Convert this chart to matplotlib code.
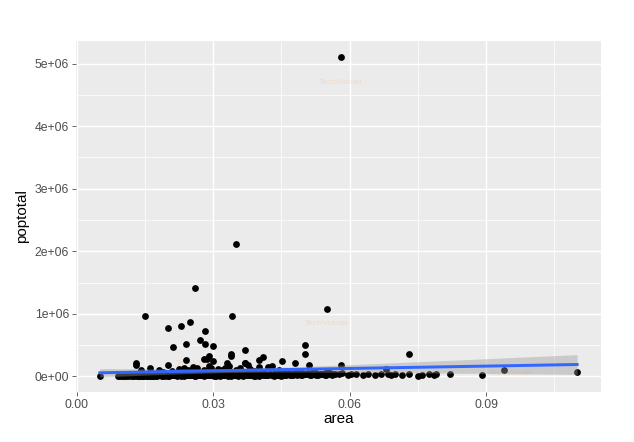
import numpy as np
import matplotlib
matplotlib.use("Agg")
import matplotlib.pyplot as plt

# Notable (non-baseline) counties: area, poptotal
area_hi = [0.0581, 0.0351, 0.0261, 0.0550, 0.0151, 0.0341, 0.0250, 0.0230, 0.0201, 0.0281,
           0.0211, 0.0241, 0.0270, 0.0281, 0.0300, 0.0370, 0.0339, 0.0339, 0.0501, 0.0501,
           0.0731, 0.0131, 0.0131, 0.0201, 0.0241, 0.0291, 0.0280, 0.0287, 0.0300, 0.0330,
           0.0370, 0.0161, 0.0141, 0.0180, 0.0051, 0.0410, 0.0400, 0.0451, 0.0480, 0.0511,
           0.0580, 0.0370, 0.0376, 0.0400, 0.0420, 0.0430, 0.0680, 0.0940, 0.1100, 0.0890,
           0.0750, 0.0820,
           0.0225, 0.0235, 0.0245, 0.0255, 0.0260, 0.0265, 0.0280, 0.0290, 0.0295, 0.0310,
           0.0320, 0.0325, 0.0335, 0.0350, 0.0360, 0.0380, 0.0390, 0.0445, 0.0460, 0.0490,
           0.0520, 0.0550, 0.0165, 0.0190, 0.0210]
pop_hi = [5105067, 2111687, 1412140, 1083592, 959275, 961437, 870000, 800000, 780000, 720000,
          470000, 520000, 580000, 520000, 480000, 430000, 360000, 320000, 500000, 360000,
          360000, 210000, 180000, 180000, 260000, 330000, 280000, 280000, 250000, 220000,
          220000, 130000, 110000, 95000, 10000, 310000, 260000, 250000, 210000, 180000,
          180000, 210000, 190000, 150000, 150000, 160000, 120000, 110000, 70000, 15000,
          10000, 40000,
          120000, 140000, 100000, 150000, 90000, 130000, 110000, 160000, 130000, 120000,
          100000, 140000, 170000, 110000, 130000, 120000, 90000, 110000, 80000, 90000,
          70000, 90000, 60000, 70000, 90000]

# Baseline counties (small populations), area in thousandths
area_base = [9.0, 9.4, 9.8, 10.2, 10.5, 10.9, 11.3, 11.6, 12.0, 12.3,
             12.7, 13.0, 13.4, 13.8, 14.1, 14.5, 14.8, 15.2, 15.5, 15.9,
             16.2, 16.6, 16.9, 17.3, 17.6, 18.0, 18.3, 18.7, 19.0, 19.4,
             19.7, 20.1, 20.4, 20.8, 21.1, 21.4, 21.8, 22.1, 22.4, 22.8,
             23.1, 23.4, 23.7, 24.0, 24.3, 24.6, 24.9, 25.2, 25.5, 25.8,
             26.1, 26.4, 26.7, 27.0, 27.3, 27.6, 27.9, 28.2, 28.5, 28.8,
             29.1, 29.4, 29.7, 30.0, 30.3, 30.6, 30.9, 31.2, 31.5, 31.8,
             32.1, 32.4, 32.7, 33.0, 33.3, 33.6, 33.9, 34.2, 34.5, 34.8,
             35.1, 35.4, 35.7, 36.0, 36.3, 36.6, 36.9, 37.2, 37.5, 37.8,
             38.1, 38.5, 38.9, 39.3, 39.7, 40.1, 40.5, 40.9, 41.3, 41.7,
             42.1, 42.5, 42.9, 43.3, 43.7, 44.1, 44.5, 44.9, 45.3, 45.7,
             46.1, 46.5, 46.9, 47.3, 47.7, 48.1, 48.5, 48.9, 49.3, 49.7,
             50.1, 50.5, 50.9, 51.3, 51.7, 52.1, 52.6, 53.1, 53.6, 54.1,
             54.6, 55.1, 55.6, 56.2, 56.8, 57.6, 58.3, 59.6, 60.3, 61.5,
             63.0, 64.0, 65.5, 67.0, 68.5, 69.0, 70.0, 71.5, 73.0, 76.0,
             77.5, 78.5, 79.0,
             17.0, 17.3, 17.6, 17.9, 18.2, 18.5, 18.8, 19.1, 19.4, 19.7,
             20.0, 20.3, 20.6, 20.9, 21.2, 21.5, 21.8, 22.1, 22.4, 22.7,
             23.0, 23.3, 23.6, 23.9, 24.2, 24.5, 24.8, 25.1, 25.4, 25.7,
             26.0, 26.3, 26.6, 26.9, 27.2, 27.5, 27.8, 28.1, 28.4, 28.7,
             29.0, 29.3, 29.6, 29.9, 30.2, 30.5, 30.8, 31.1, 31.4, 31.7,
             32.0, 32.4, 32.8, 33.2, 33.6, 34.0, 34.4, 34.8, 35.2, 35.6,
             12.5, 13.2, 13.9, 14.6, 15.3, 16.0, 16.7, 17.4, 18.1, 18.8,
             19.5, 20.2, 20.9, 21.6, 22.3, 23.0, 23.5, 24.0, 24.5, 25.0,
             25.5, 26.0, 26.5, 27.0, 27.5, 28.0, 28.5, 29.0, 29.5, 30.0,
             30.5, 31.0, 31.5, 32.0, 32.5, 33.0, 33.5, 34.0, 34.5, 35.0,
             35.5, 36.0, 36.5, 37.0, 37.5, 38.0, 38.5, 39.0, 39.5, 40.0,
             40.6, 41.2, 41.8, 42.4, 43.0, 43.6, 44.2, 44.8, 45.4, 46.0,
             46.6, 47.2, 47.8, 48.4, 49.0, 49.6, 50.2, 50.8, 51.4, 52.0,
             52.7, 53.4, 54.1, 54.8, 55.5, 56.3, 14.0, 16.3, 18.5, 21.0,
             23.2, 25.3, 27.2, 29.3, 31.2, 33.3, 35.3, 37.3, 39.2, 41.5,
             43.5, 45.5, 47.5, 49.5, 51.5]
pop_base = [8000, 12000, 6000, 14000, 9000, 11000, 7000, 15000, 10000, 13000,
            9000, 16000, 11000, 8000, 14000, 12000, 18000, 10000, 7000, 15000,
            20000, 11000, 17000, 13000, 9000, 22000, 15000, 10000, 19000, 12000,
            30000, 12000, 22000, 27000, 15000, 20000, 38000, 13000, 25000, 18000,
            39000, 26000, 13000, 44000, 20000, 32000, 17000, 61000, 23000, 29000,
            14000, 37000, 25000, 50000, 19000, 33000, 11000, 42000, 27000, 21000,
            35000, 16000, 55000, 24000, 30000, 12000, 46000, 28000, 18000, 38000,
            22000, 64000, 15000, 31000, 26000, 40000, 13000, 34000, 20000, 48000,
            25000, 17000, 36000, 29000, 53000, 14000, 32000, 23000, 41000, 19000,
            27000, 44000, 12000, 30000, 21000, 37000, 16000, 57000, 24000, 33000,
            18000, 39000, 26000, 14000, 49000, 22000, 31000, 11000, 35000, 28000,
            28000, 51000, 23000, 42000, 33000, 60000, 27000, 38000, 21000, 46000,
            33000, 39000, 56000, 27000, 42000, 31000, 50000, 24000, 37000, 46000,
            30000, 37000, 56000, 24000, 43000, 34000, 47000, 28000, 40000, 32000,
            27000, 36000, 22000, 42000, 31000, 24000, 38000, 29000, 45000, 21000,
            33000, 26000, 39000,
            34000, 18000, 27000, 41000, 15000, 22000, 30000, 48000, 19000, 25000,
            37000, 13000, 29000, 60000, 21000, 33000, 17000, 45000, 26000, 38000,
            14000, 31000, 52000, 23000, 36000, 20000, 42000, 28000, 16000, 39000,
            24000, 55000, 19000, 32000, 27000, 47000, 15000, 35000, 22000, 43000,
            18000, 30000, 50000, 25000, 12000, 37000, 21000, 28000, 44000, 17000,
            33000, 24000, 40000, 14000, 29000, 20000, 36000, 26000, 31000, 18000,
            16000, 11000, 20000, 9000, 25000, 14000, 10000, 18000, 22000, 8000,
            24000, 45000, 18000, 31000, 21000, 38000, 15000, 27000, 50000, 20000,
            32000, 13000, 43000, 25000, 35000, 16000, 28000, 47000, 19000, 30000,
            23000, 39000, 11000, 34000, 26000, 54000, 17000, 29000, 22000, 40000,
            14000, 33000, 25000, 48000, 20000, 31000, 18000, 37000, 27000, 12000,
            42000, 24000, 16000, 35000, 28000, 51000, 21000, 30000, 15000, 38000,
            34000, 27000, 52000, 31000, 40000, 21000, 44000, 37000, 25000, 49000,
            30000, 42000, 33000, 26000, 38000, 35000, 12000, 10000, 18000, 30000,
            16000, 33000, 24000, 45000, 19000, 31000, 22000, 37000, 14000, 29000,
            34000, 43000, 26000, 48000, 31000]

x_ticks = [0.00, 0.03, 0.06, 0.09]
x_labels = ["0.00", "0.03", "0.06", "0.09"]
y_ticks = [0, 1e6, 2e6, 3e6, 4e6, 5e6]
y_labels = ["0e+00", "1e+06", "2e+06", "3e+06", "4e+06", "5e+06"]

area = np.array(area_hi + [a / 1000.0 for a in area_base])
poptotal = np.array(pop_hi + pop_base, dtype=float)

plt.rcParams['font.family'] = ['Liberation Sans', 'DejaVu Sans']

fig = plt.figure(figsize=(6.34, 4.42), dpi=100)
ax = fig.add_axes([76 / 634, 1 - 392 / 442, (601 - 76) / 634, (392 - 41) / 442])
ax.set_facecolor('#EBEBEB')
for s in ax.spines.values():
    s.set_visible(False)

# limits with ggplot 5% expansion
xmin, xmax = area.min(), area.max()
ymin, ymax = poptotal.min(), poptotal.max()
xr = xmax - xmin
yr = ymax - ymin
ax.set_xlim(xmin - 0.05 * xr, xmax + 0.05 * xr)
ax.set_ylim(ymin - 0.05 * yr, ymax + 0.05 * yr)

# grid
ax.set_xticks(x_ticks)
ax.set_xticklabels(x_labels)
ax.set_yticks(y_ticks)
ax.set_yticklabels(y_labels)
ax.set_xticks([0.015, 0.045, 0.075, 0.105], minor=True)
ax.set_yticks([0.5e6, 1.5e6, 2.5e6, 3.5e6, 4.5e6], minor=True)
ax.grid(which='major', color='white', linewidth=1.07)
ax.grid(which='minor', color='white', linewidth=0.53)
ax.set_axisbelow(True)
ax.tick_params(which='minor', length=0)
ax.tick_params(which='major', length=2.75, width=0.53, color='#333333',
               labelcolor='#4D4D4D', labelsize=8.8, pad=2.2)

# watermarks (faint)
for (wx, wy) in [(0.0581, 4.7e6), (0.055, 0.85e6), (0.0955, 0.05e6), (0.0265, 0.2e6)]:
    ax.text(wx, wy, "TechVidvan", fontsize=6, color='#F2C9A6', alpha=0.5,
            ha='center', va='center', zorder=1)

# points
ax.scatter(area, poptotal, s=24, color='black', linewidths=0, zorder=3)

# linear fit with 95% CI
n = len(area)
b1, b0 = np.polyfit(area, poptotal, 1)
resid = poptotal - (b0 + b1 * area)
sigma = np.sqrt(np.sum(resid ** 2) / (n - 2))
xbar = area.mean()
sxx = np.sum((area - xbar) ** 2)
xs = np.linspace(xmin, xmax, 80)
ys = b0 + b1 * xs
se = sigma * np.sqrt(1.0 / n + (xs - xbar) ** 2 / sxx)
tval = 1.966
ax.fill_between(xs, ys - tval * se, ys + tval * se, color='#999999', alpha=0.4,
                linewidth=0, zorder=4)
ax.plot(xs, ys, color='#3366FF', linewidth=2.13, zorder=5)

ax.set_xlabel("area", fontsize=11, color='black', labelpad=1)
ax.set_ylabel("poptotal", fontsize=11, color='black', labelpad=4)

fig.savefig("out.png", dpi=100)
